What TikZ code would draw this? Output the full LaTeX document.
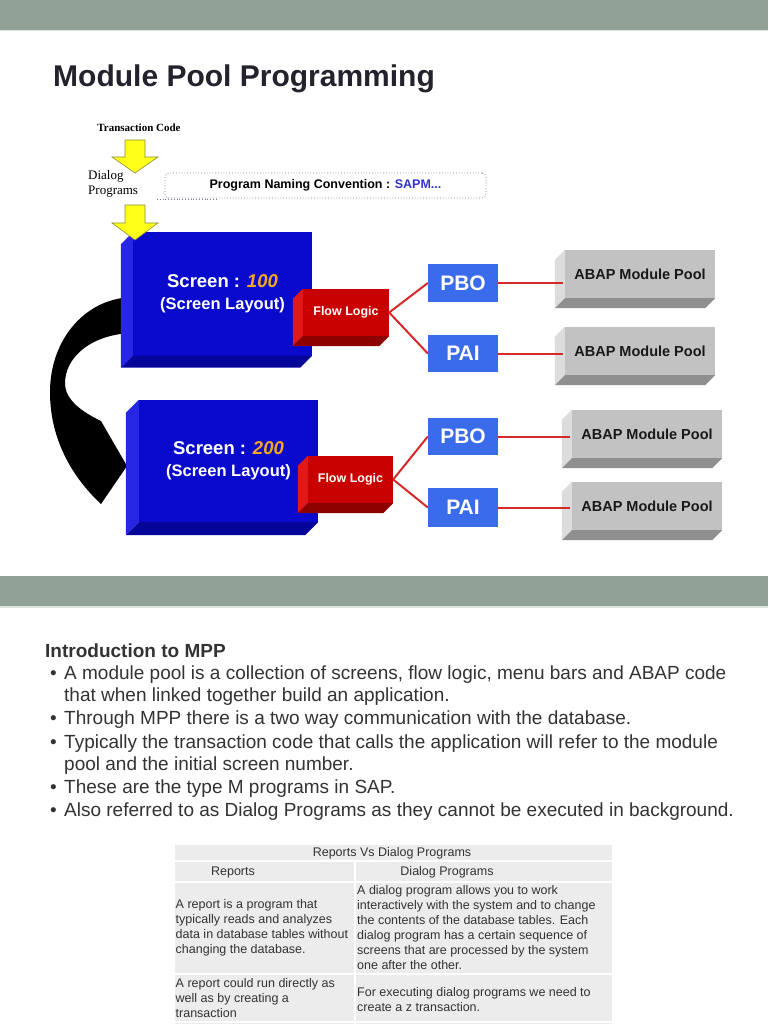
\documentclass[tikz,border=0pt]{standalone}
\usepackage{fontspec}
\setmainfont{Liberation Sans}
\newfontfamily\tnr{Liberation Serif}
\usetikzlibrary{calc}
\definecolor{bar}{HTML}{91A196}
\definecolor{barline}{HTML}{DDE4DE}
\definecolor{titlec}{HTML}{23232D}
\definecolor{txt}{HTML}{333333}
\definecolor{scrfront}{HTML}{0A0ACD}
\definecolor{scrside}{HTML}{2626E4}
\definecolor{scrbot}{HTML}{05059A}
\definecolor{flfront}{HTML}{C80000}
\definecolor{flside}{HTML}{E01818}
\definecolor{flbot}{HTML}{8C0000}
\definecolor{pboc}{HTML}{3A6BEA}
\definecolor{gfront}{HTML}{C2C2C2}
\definecolor{gside}{HTML}{DCDCDC}
\definecolor{gbot}{HTML}{8F8F8F}
\definecolor{redline}{HTML}{D42A2A}
\definecolor{yel}{HTML}{FFFF1A}
\definecolor{yelline}{HTML}{8C8C3C}
\definecolor{cell}{HTML}{ECECEC}
\definecolor{sapm}{HTML}{3333CC}
\definecolor{numc}{HTML}{F5A623}
\definecolor{dashc}{HTML}{7A7A90}
\newcommand\boxfaces[4]{%
  \fill[#3] (#1.north west) -- (#1.south west) -- ($(#1.south west)+(-#2,#2)$) -- ($(#1.north west)+(-#2,#2)$) -- cycle;
  \fill[#4] (#1.south west) -- (#1.south east) -- ($(#1.south east)+(-#2,#2)$) -- ($(#1.south west)+(-#2,#2)$) -- cycle;}
\tikzset{
  scr/.style={fill=scrfront, text=white, font=\bfseries\fontsize{16.5}{22}\selectfont, align=center, inner sep=0pt},
  flow/.style={fill=flfront, text=white, font=\bfseries\fontsize{12.5}{14}\selectfont, inner sep=0pt, minimum width=86pt, minimum height=47pt},
  pb/.style={fill=pboc, text=white, font=\bfseries\fontsize{21}{24}\selectfont, inner sep=0pt, minimum width=70pt},
  abap/.style={fill=gfront, text=black!90, font=\bfseries\fontsize{14.5}{16}\selectfont, inner sep=0pt, minimum width=150pt, minimum height=48pt},
  rl/.style={draw=redline, line width=2pt},
  yarrow/.style={fill=yel, draw=yelline, line width=0.6pt},
  bul/.style={anchor=base west, text=txt, font=\fontsize{19}{22}\selectfont, inner sep=0pt},
  tab/.style={text=txt, font=\fontsize{12.5}{15}\selectfont, inner sep=0pt, align=left},
}
\begin{document}
\begin{tikzpicture}[x=1pt, y=-1pt]
\useasboundingbox (0,0) rectangle (768,1024);
\fill[white] (0,0) rectangle (768,1024);
% bars
\fill[bar] (0,0) rectangle (768,30);
\fill[barline] (0,30) rectangle (768,31.5);
\fill[bar] (0,576) rectangle (768,606);
\fill[barline] (0,606) rectangle (768,607.5);
% title
\node[anchor=base west, inner sep=0pt, text=titlec, font=\bfseries\fontsize{30}{34}\selectfont] (title) at (53,87) {Module Pool Programming};
% transaction code / dialog programs
\node[inner sep=0pt, font=\tnr\bfseries\fontsize{11}{12}\selectfont] (tcode) at (139,128) {Transaction Code};
\node[anchor=north west, inner sep=0pt, align=left, font=\tnr\fontsize{13}{15}\selectfont] (dprog) at (88,170) {Dialog\\Programs};
\node[draw=dashc, dotted, line width=0.8pt, rounded corners=4pt, minimum width=321pt, minimum height=25pt, inner sep=0pt, font=\bfseries\fontsize{12.5}{14}\selectfont] (pnc) at (325.5,185.5) {Program Naming Convention : \textcolor{sapm}{SAPM...}};
\coordinate (dl1) at (157,199);
\coordinate (dl2) at (218,199);
\draw[dashc, dotted, line width=0.8pt] (dl1) -- (dl2);
\filldraw[yarrow] (125,140) -- (145,140) -- (145,157) -- (158,157) -- (135,173) -- (112,157) -- (125,157) -- cycle;
% black curved arrow
\fill[black] (135,297) .. controls (85,297) and (50,340) .. (50,392) .. controls (50,437) and (70,475) .. (101,504) -- (127,466) -- (101,421) .. controls (82,412) and (66,400) .. (65,385) .. controls (64,355) and (95,333) .. (135,333) -- cycle;
% screen boxes
\node[scr, minimum width=179pt, minimum height=123pt] (s1) at (222.5,294) {{\fontsize{18.5}{22}\selectfont Screen : \textcolor{numc}{\itshape 100}}\\(Screen Layout)};
\boxfaces{s1}{12}{scrside}{scrbot}
\node[scr, minimum width=179pt, minimum height=122pt] (s2) at (228.5,461) {{\fontsize{18.5}{22}\selectfont Screen : \textcolor{numc}{\itshape 200}}\\(Screen Layout)};
\boxfaces{s2}{13}{scrside}{scrbot}
\filldraw[yarrow] (125,205) -- (145,205) -- (145,223) -- (158,223) -- (135,240) -- (112,223) -- (125,223) -- cycle;
% flow logic
\node[flow] (f1) at (346,312.5) {Flow Logic};
\boxfaces{f1}{10}{flside}{flbot}
\node[flow, minimum width=85pt] (f2) at (350.5,479.5) {Flow Logic};
\boxfaces{f2}{10}{flside}{flbot}
% PBO / PAI
\node[pb, minimum height=38pt] (pbo1) at (463,283) {PBO};
\node[pb, minimum height=37pt] (pai1) at (463,353.5) {PAI};
\node[pb, minimum height=37pt] (pbo2) at (463,436.5) {PBO};
\node[pb, minimum height=39pt] (pai2) at (463,507.5) {PAI};
% ABAP boxes
\node[abap] (a1) at (640,274) {ABAP Module Pool};
\boxfaces{a1}{10}{gside}{gbot}
\node[abap] (a2) at (640,351) {ABAP Module Pool};
\boxfaces{a2}{10}{gside}{gbot}
\node[abap] (a3) at (647,434) {ABAP Module Pool};
\boxfaces{a3}{10}{gside}{gbot}
\node[abap] (a4) at (647,506) {ABAP Module Pool};
\boxfaces{a4}{10}{gside}{gbot}
% red connectors
\draw[rl] (f1.east) -- (pbo1.west);
\draw[rl] (f1.east) -- (pai1.west);
\draw[rl] (f2.east) -- (pbo2.west);
\draw[rl] (f2.east) -- (pai2.west);
\draw[rl] (pbo1.east) -- ($(pbo1.east -| a1.west)+(-2,0)$);
\draw[rl] (pai1.east) -- ($(pai1.east -| a2.west)+(-2,0)$);
\draw[rl] (pbo2.east) -- ($(pbo2.east -| a3.west)+(-2,0)$);
\draw[rl] (pai2.east) -- ($(pai2.east -| a4.west)+(-2,0)$);
% intro text
\node[anchor=base west, inner sep=0pt, text=txt, font=\bfseries\fontsize{19}{22}\selectfont] (intro) at (45,657) {Introduction to MPP};
\foreach \n/\yy in {1/679,2/724,3/748,4/793,5/816}{
  \node[bul] (b\n) at (50,\yy) {•};
}
\node[bul] (t1a) at (64,679) {A module pool is a collection of screens, flow logic, menu bars and ABAP code};
\node[bul] (t1b) at (64,701) {that when linked together build an application.};
\node[bul] (t2) at (64,724) {Through MPP there is a two way communication with the database.};
\node[bul] (t3a) at (64,748) {Typically the transaction code that calls the application will refer to the module};
\node[bul] (t3b) at (64,770) {pool and the initial screen number.};
\node[bul] (t4) at (64,793) {These are the type M programs in SAP.};
\node[bul] (t5) at (64,816) {Also referred to as Dialog Programs as they cannot be executed in background.};
% table
\fill[cell] (175,845) rectangle (612,860);
\fill[cell] (175,862) rectangle (354,881);
\fill[cell] (356,862) rectangle (612,881);
\fill[cell] (175,883) rectangle (354,973);
\fill[cell] (356,883) rectangle (612,973);
\fill[cell] (175,975) rectangle (354,1021);
\fill[cell] (356,975) rectangle (612,1021);
\fill[cell] (175,1023) rectangle (354,1030);
\fill[cell] (356,1023) rectangle (612,1030);
\node[tab] (tt) at (392,853) {Reports Vs Dialog Programs};
\node[tab] (hr) at (233,872) {Reports};
\node[tab] (hd) at (447,872) {Dialog Programs};
\node[tab, anchor=west] (r1l) at (175.5,928) {A report is a program that\\typically reads and analyzes\\data in database tables without\\changing the database.};
\node[tab, anchor=west] (r1r) at (357,928) {A dialog program allows you to work\\interactively with the system and to change\\the contents of the database tables. Each\\dialog program has a certain sequence of\\screens that are processed by the system\\one after the other.};
\node[tab, anchor=west] (r2l) at (175.5,998) {A report could run directly as\\well as by creating a\\transaction};
\node[tab, anchor=west] (r2r) at (357,1000) {For executing dialog programs we need to\\create a z transaction.};
\end{tikzpicture}
\end{document}
